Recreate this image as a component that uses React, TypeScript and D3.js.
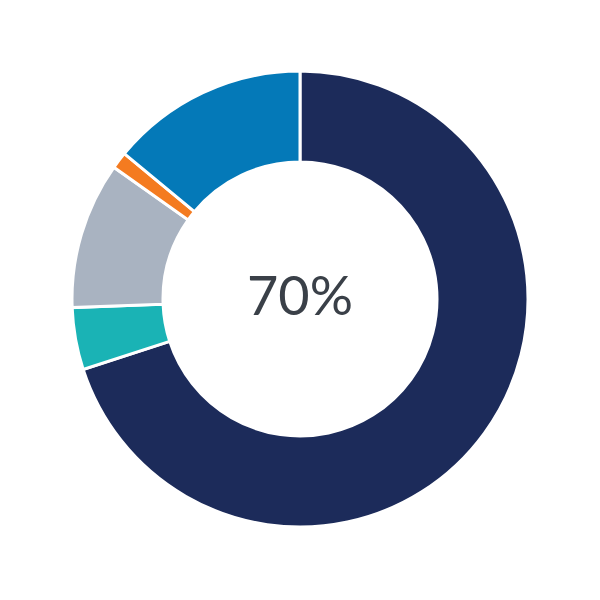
import React, { useEffect, useRef } from 'react';
import * as d3 from 'd3';

const categories = ['Navy', 'Teal', 'Gray', 'Orange', 'Blue'];
const values = [70, 4.4, 10.4, 1.2, 14];
const colors = ['#1c2b5a', '#1ab3b5', '#a9b3c1', '#f47b20', '#0479b8'];
const centerLabel = '70%';

export default function App() {
    const ref = useRef<SVGSVGElement>(null);

    useEffect(() => {
        const width = 600, height = 600;
        const outer = 228, inner = 137;

        const svg = d3.select(ref.current);
        svg.selectAll('*').remove();

        const g = svg.append('g')
            .attr('transform', 'translate(' + width / 2 + ',' + 299 + ')');

        const data = categories.map((c, i) => ({ name: c, value: values[i], color: colors[i] }));

        const pie = d3.pie<any>()
            .value((d: any) => d.value)
            .sort(null);

        const arc = d3.arc<any>()
            .innerRadius(inner)
            .outerRadius(outer);

        g.selectAll('path')
            .data(pie(data))
            .enter()
            .append('path')
            .attr('d', arc)
            .attr('fill', (d: any) => d.data.color)
            .attr('stroke', '#fff')
            .attr('stroke-width', 3);

        g.append('text')
            .attr('text-anchor', 'middle')
            .attr('y', 16)
            .attr('font-family', 'Lato, sans-serif')
            .attr('font-weight', 400)
            .attr('font-size', 54)
            .attr('fill', '#3a4048')
            .text(centerLabel);
    }, []);

    return (
        <svg ref={ref} width={600} height={600}
            style={{ position: 'absolute', left: 0, top: 0, background: '#fff' }} />
    );
}
